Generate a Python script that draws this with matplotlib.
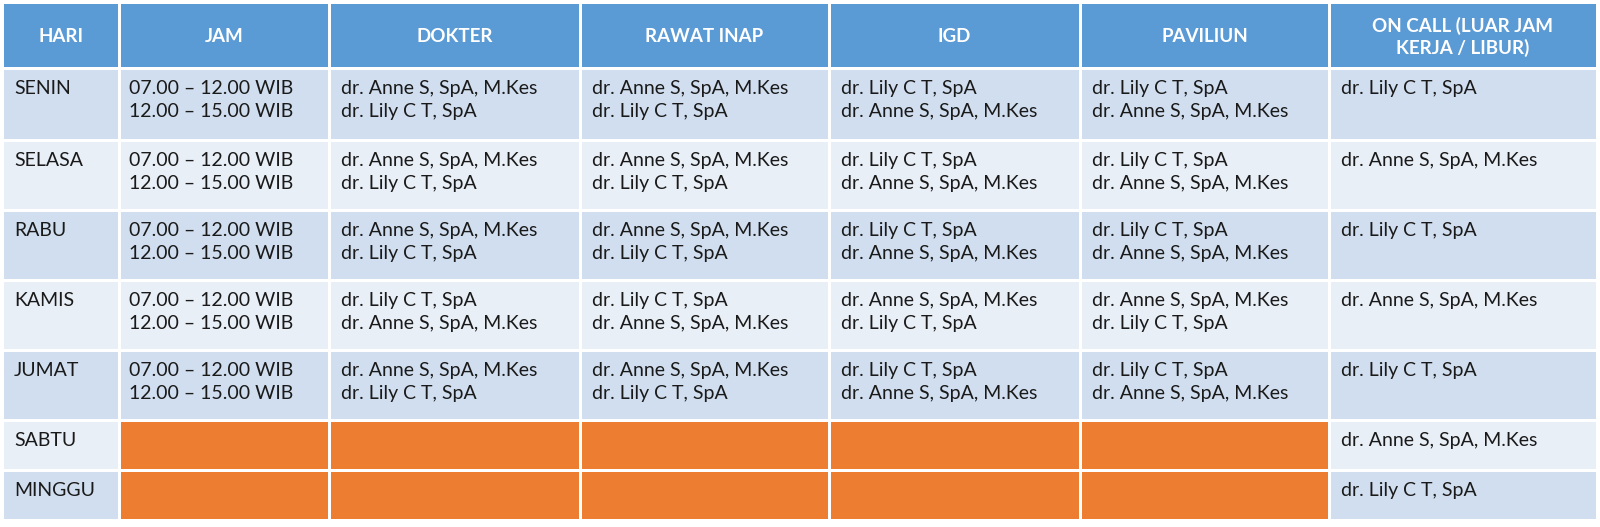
import matplotlib
matplotlib.use("Agg")
import matplotlib.pyplot as plt
from matplotlib.patches import Rectangle

headers = ["HARI", "JAM", "DOKTER", "RAWAT INAP", "IGD", "PAVILIUN", "ON CALL (LUAR JAM\nKERJA / LIBUR)"]
days = ["SENIN", "SELASA", "RABU", "KAMIS", "JUMAT", "SABTU", "MINGGU"]
A = "dr. Anne S, SpA, M.Kes"
L = "dr. Lily C T, SpA"
jam = "07.00 – 12.00 WIB\n12.00 – 15.00 WIB"
dokter = [A+"\n"+L, A+"\n"+L, A+"\n"+L, L+"\n"+A, A+"\n"+L, None, None]
rawat = dokter
igd = [L+"\n"+A, L+"\n"+A, L+"\n"+A, A+"\n"+L, L+"\n"+A, None, None]
pav = igd
oncall = [L, A, L, A, L, A, L]

colx = [2, 119, 329, 580, 829, 1080, 1329, 1597]
rowy = [2, 68, 140, 210, 280, 350, 420, 470, 520]

W, H = 1600, 527
fig = plt.figure(figsize=(16, 5.27), dpi=100)
ax = fig.add_axes([0, 0, 1, 1])
ax.set_xlim(0, W); ax.set_ylim(H, 0); ax.axis("off")
FONT = "Lato"
HEAD = "#5B9BD5"; DARK = "#D0DEEF"; LIGHT = "#E9EFF7"; ORANGE = "#ED7D31"
g = 1.5

def cell(c, r, color):
    x0, x1 = colx[c], colx[c+1]; y0, y1 = rowy[r], rowy[r+1]
    ax.add_patch(Rectangle((x0+g, y0+g), x1-x0-2*g, y1-y0-2*g, facecolor=color, edgecolor="none"))

for c, h in enumerate(headers):
    cell(c, 0, HEAD)
    ax.text((colx[c]+colx[c+1])/2, (rowy[0]+rowy[1])/2+2, h, ha="center", va="center",
            color="white", fontsize=13.5, fontweight="bold", family=FONT, linespacing=1.25)

cols = [None, None, dokter, rawat, igd, pav, oncall]
for r, d in enumerate(days):
    band = DARK if r % 2 == 0 else LIGHT
    vals = [d, jam if r < 5 else None, dokter[r], rawat[r], igd[r], pav[r], oncall[r]]
    for c, v in enumerate(vals):
        color = band
        if v is None and 1 <= c <= 5:
            color = ORANGE
        cell(c, r+1, color)
        if v:
            pad = 12 if c == 0 else (10 if c == 1 else 12)
            ax.text(colx[c]+pad, rowy[r+1]+12, v, ha="left", va="top", color="#1a1a1a",
                    fontsize=14, family=FONT, linespacing=1.45)

fig.savefig("out.png", dpi=100)
